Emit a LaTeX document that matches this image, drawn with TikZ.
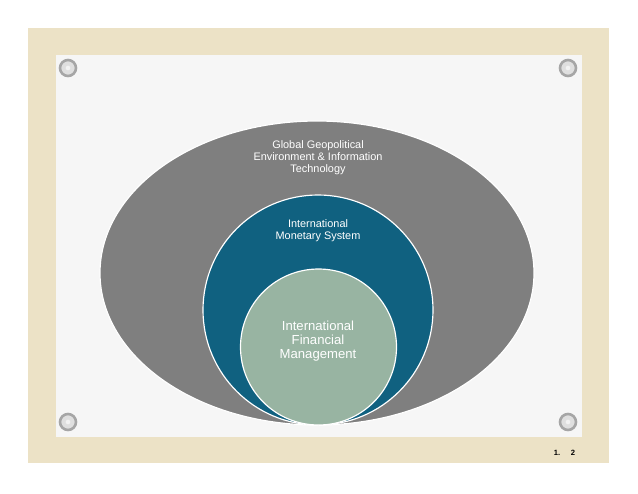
\documentclass[tikz,border=0pt]{standalone}
\usepackage{fontspec}
\setmainfont{Liberation Sans}
\begin{document}
\begin{tikzpicture}[x=0.03cm,y=-0.03cm,
 screw/.style={circle,minimum size=0.48cm,inner sep=0pt,draw=gray!70,line width=2.2pt,fill=gray!25},
 lbl/.style={align=center,font=\fontsize{9.3}{10.2}\selectfont,text=white}]
\useasboundingbox (0,0) rectangle (638,493);
\fill[white] (0,0) rectangle (638,493);
\fill[fill={rgb,255:red,236;green,226;blue,198}] (28,28) rectangle (609,463);
\fill[fill={rgb,255:red,246;green,246;blue,246}] (56,55) rectangle (582,437);
\node[screw] (s1) at (68,68) {};
\node[screw] (s2) at (568,68) {};
\node[screw] (s3) at (68,422) {};
\node[screw] (s4) at (568,422) {};
\foreach \s in {s1,s2,s3,s4} \fill[gray!10] (\s) circle (0.07cm);
\fill[fill={rgb,255:red,127;green,127;blue,127},draw=white,line width=1pt] (317,273) ellipse [x radius=217, y radius=152];
\fill[fill={rgb,255:red,16;green,97;blue,128},draw=white,line width=1pt] (318,310) circle [radius=115];
\fill[fill={rgb,255:red,152;green,180;blue,162},draw=white,line width=1pt] (318.5,347) circle [radius=78];
\node[lbl] (t1) at (318,158) {Global Geopolitical\\Environment \& Information\\Technology};
\node[lbl] (t2) at (318,231) {International\\Monetary System};
\node[lbl,font=\fontsize{11.2}{12.2}\selectfont] (t3) at (318,341) {International\\Financial\\Management};
\node[font=\bfseries\fontsize{6.5}{7}\selectfont] (p1) at (557,453) {1.};
\node[font=\bfseries\fontsize{6.5}{7}\selectfont] (p2) at (573,453) {2};
\end{tikzpicture}
\end{document}
